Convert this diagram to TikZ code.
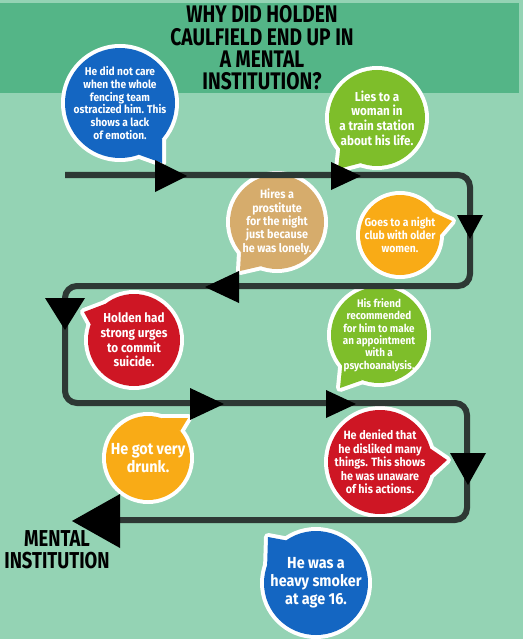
\documentclass[tikz,border=0pt]{standalone}
\usepackage{fontspec}
\newfontfamily\titlefont[FakeStretch=0.8]{Fira Sans}
\newfontfamily\bubfont[FakeStretch=0.9]{Fira Sans}
\usetikzlibrary{calc}
\definecolor{bgmint}{RGB}{148,211,180}
\definecolor{bandgreen}{RGB}{84,181,135}
\definecolor{bblue}{RGB}{20,102,194}
\definecolor{bgreen}{RGB}{126,190,42}
\definecolor{btan}{RGB}{214,172,108}
\definecolor{borange}{RGB}{249,171,22}
\definecolor{bred}{RGB}{206,22,36}
\definecolor{pathgray}{RGB}{45,56,52}
\tikzset{
  bubtext/.style={align=center, text=white, inner sep=0pt},
  pathline/.style={draw=pathgray, line width=6pt, rounded corners=12pt},
  arrowfill/.style={fill=black},
  titleline/.style={font=\titlefont\bfseries\fontsize{24}{22}\selectfont, text=black, inner sep=0pt, anchor=base, text height=16.5pt, text depth=0pt},
}
% #1 name, #2 centre, #3 radius, #4 colour, #5 a1, #6 a2, #7 tip, #8 font size, #9 text
\newcommand\bubble[9]{%
  \pgfmathsetmacro\bsk{#8*1.12}%
  \fill[white] #2 circle[radius={#3pt+4pt}];
  \filldraw[white, line width=8pt, line join=round] ($#2+(#5:#3)$) -- #7 -- ($#2+(#6:#3)$) -- cycle;
  \fill[#4] #2 circle[radius={#3pt}];
  \fill[#4] ($#2+(#5:#3)$) -- #7 -- ($#2+(#6:#3)$) -- cycle;
  \node[bubtext, font=\bubfont\bfseries\fontsize{#8}{\bsk}\selectfont] (#1) at #2 {#9};
}
\newcommand\tri[5]{%
  \fill[arrowfill, shift={(#1,#2)}, rotate=#3] (#4,0) -- (-#4,#5) -- (-#4,-#5) -- cycle;
}
\begin{document}
\begin{tikzpicture}[x=1pt, y=-1pt]
\useasboundingbox (0,0) rectangle (523,639);
\fill[bgmint] (0,0) rectangle (523,639);
\fill[bandgreen] (0,3) rectangle (519,93);

\node[titleline] (title1) at (262,23) {WHY DID HOLDEN};
\node[titleline] (title2) at (262,45.5) {CAULFIELD END UP IN};
\node[titleline] (title3) at (262,68) {A MENTAL};
\node[titleline] (title4) at (262,90) {INSTITUTION?};

\bubble{b1}{(120,103)}{55}{bblue}{40}{70}{(162,163)}{11.3}{He did not care\\when the whole\\fencing team\\ostracized him. This\\shows a lack\\of emotion.}
\bubble{b2}{(377,118)}{48}{bgreen}{110}{140}{(338,169)}{13}{Lies to a\\woman in\\a train station\\about his life.}
\bubble{b3}{(277,222)}{47}{btan}{110}{140}{(240,271)}{12}{Hires a\\prostitute\\for the night\\just because\\he was lonely.}
\bubble{b4}{(400,235)}{40}{borange}{-35}{0}{(452,221)}{11.5}{Goes to a night\\club with older\\women.}
\bubble{b5}{(134,340)}{46}{bred}{200}{232}{(84,312)}{13}{Holden had\\strong urges\\to commit\\suicide.}
\bubble{b6}{(379,335)}{48}{bgreen}{110}{140}{(340,388)}{11}{His friend\\recommended\\for him to make\\an appointment\\with a\\psychoanalysis.}
\bubble{b7}{(148,458)}{42}{borange}{-72}{-40}{(188,418)}{16}{He got very\\drunk.}
\bubble{b8}{(380,462)}{52}{bred}{-15}{15}{(447,460)}{12}{He denied that\\he disliked many\\things. This shows\\he was unaware\\of his actions.}
\bubble{b9}{(316,583)}{52}{bblue}{200}{235}{(268,537)}{16}{He was a\\heavy smoker\\at age 16.}

\coordinate (start) at (65,175);
\coordinate (c1) at (470,175);
\coordinate (c2) at (470,286);
\coordinate (c3) at (65,286);
\coordinate (c4) at (65,403);
\coordinate (c5) at (467,403);
\coordinate (c6) at (467,520);
\coordinate (finish) at (110,520);
\draw[pathline] (start) -- (c1) -- (c2) -- (c3) -- (c4) -- (c5) -- (c6) -- (finish);

\tri{171}{176}{0}{16}{16}
\tri{346}{176}{0}{15}{14}
\tri{470}{227}{-90}{12}{13}
\tri{222}{287}{180}{17}{16}
\tri{65}{314}{-90}{16}{20}
\tri{207}{404}{0}{17}{16}
\tri{341}{404}{0}{15}{14}
\tri{468}{469}{-90}{16}{18}
\tri{96}{521}{180}{24}{27}

\node[font=\titlefont\bfseries\fontsize{23}{22}\selectfont, align=center, text=black, inner sep=0pt] (mental) at (57,550)
  {MENTAL\\INSTITUTION};
\end{tikzpicture}
\end{document}
